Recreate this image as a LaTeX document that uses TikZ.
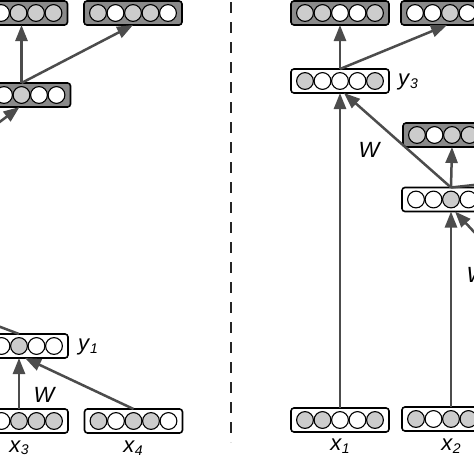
\documentclass[tikz,border=0pt]{standalone}
\usepackage{fontspec}
\setmainfont{Liberation Sans}
\usetikzlibrary{arrows.meta,calc}
\definecolor{boxgray}{gray}{0.54}
\definecolor{cellgray}{gray}{0.80}
\definecolor{linegray}{gray}{0.30}
\newcommand\nnvec[5]{%
  \node[vecbox, fill=#4] (#1) at (#2,#3) {};
  \foreach \f [count=\i] in {#5} {%
    \draw[cell, fill=\f] ($(#1.center)+({(\i-3)*17.5},0)$) circle (8.4pt);}
}
\newcommand\lbl[2]{\textit{#1}\raisebox{-2.5pt}{\fontsize{14}{14}\selectfont\textit{#2}}}
\begin{document}
\begin{tikzpicture}[x=1pt,y=-1pt,
  vecbox/.style={draw=black, line width=1.6pt, rounded corners=3pt,
    minimum width=98pt, minimum height=24pt, inner sep=0pt, outer sep=0pt},
  cell/.style={draw=black, line width=1.1pt},
  arr/.style={draw=linegray, line width=2.5pt, -{Triangle[length=16pt,width=12pt]}},
  lab/.style={font=\fontsize{22}{24}\selectfont, inner sep=0pt},
  wlab/.style={font=\fontsize{22}{24}\selectfont\itshape, inner sep=0pt},
  divider/.style={draw=black!85, line width=2.8pt, dash pattern=on 10.5pt off 9.5pt}
]
\useasboundingbox (0,0) rectangle (474,474);
\clip (0,0) rectangle (474,474);
\fill[white] (0,0) rectangle (474,474);

% ---------- left panel ----------
\nnvec{TL}{18.5}{13}{boxgray}{cellgray,white,cellgray,cellgray,cellgray}
\nnvec{TR}{133}{13}{boxgray}{cellgray,white,cellgray,cellgray,white}
\nnvec{yb}{21.5}{95}{boxgray}{white,white,cellgray,white,white}
\nnvec{ya}{19}{346}{white}{white,white,cellgray,white,white}
\nnvec{xc}{19}{421}{white}{white,white,cellgray,cellgray,cellgray}
\nnvec{xd}{133.5}{421}{white}{cellgray,white,cellgray,cellgray,white}

\node[lab] (lya) at (88,347) {\lbl{y}{1}};
\node[lab] (lxc) at (19,448) {\lbl{x}{3}};
\node[lab] (lxd) at (133,448) {\lbl{x}{4}};
\node[wlab] (wl) at (44,395) {W};

\coordinate (offA) at (-100,289);
\coordinate (offB) at (-60,167);

\draw[arr] (yb.north) -- (yb.north |- TL.south);
\draw[arr] (yb.north) -- (TR.south);
\draw[arr] (xc.north) -- (ya.south);
\draw[arr] (xd.north) -- ([xshift=6pt]ya.south);
\draw[arr] (ya.north) -- (offA);
\draw[arr] (offB) -- ([xshift=-2pt]yb.south);

% ---------- divider ----------
\draw[divider] (231,2) -- (231,442);

% ---------- right panel ----------
\nnvec{A}{340}{13}{boxgray}{cellgray,cellgray,white,white,cellgray}
\nnvec{B}{450}{13}{boxgray}{white,white,cellgray,white,white}
\nnvec{yc}{340}{81}{white}{cellgray,white,white,white,cellgray}
\nnvec{C}{452}{135}{boxgray}{cellgray,white,cellgray,cellgray,white}
\nnvec{p}{451}{199.5}{white}{white,white,cellgray,white,white}
\nnvec{xa}{340}{420}{white}{cellgray,cellgray,white,white,cellgray}
\nnvec{xb}{451}{419}{white}{cellgray,white,cellgray,cellgray,white}

\node[lab] (lyc) at (408,82) {\lbl{y}{3}};
\node[lab] (lxa) at (340,446) {\lbl{x}{1}};
\node[lab] (lxb) at (451,446) {\lbl{x}{2}};
\node[wlab] (wr1) at (369,150) {W};
\node[wlab] (wr2) at (477,275) {W};

\coordinate (offC) at (510,181);
\coordinate (offD) at (530,292);

\draw[arr] (yc.north) -- (A.south);
\draw[arr] (yc.north) -- ([xshift=-3pt]B.south);
\draw[arr] (xa.north) -- (yc.south);
\draw[arr] (p.north) -- ([xshift=4pt]yc.south);
\draw[arr] (p.north) -- (C.south);
\draw[arr] (p.north) -- (offC);
\draw[arr] (xb.north) -- (p.south);
\draw[arr] (offD) -- ([xshift=4pt]p.south);
\end{tikzpicture}
\end{document}
